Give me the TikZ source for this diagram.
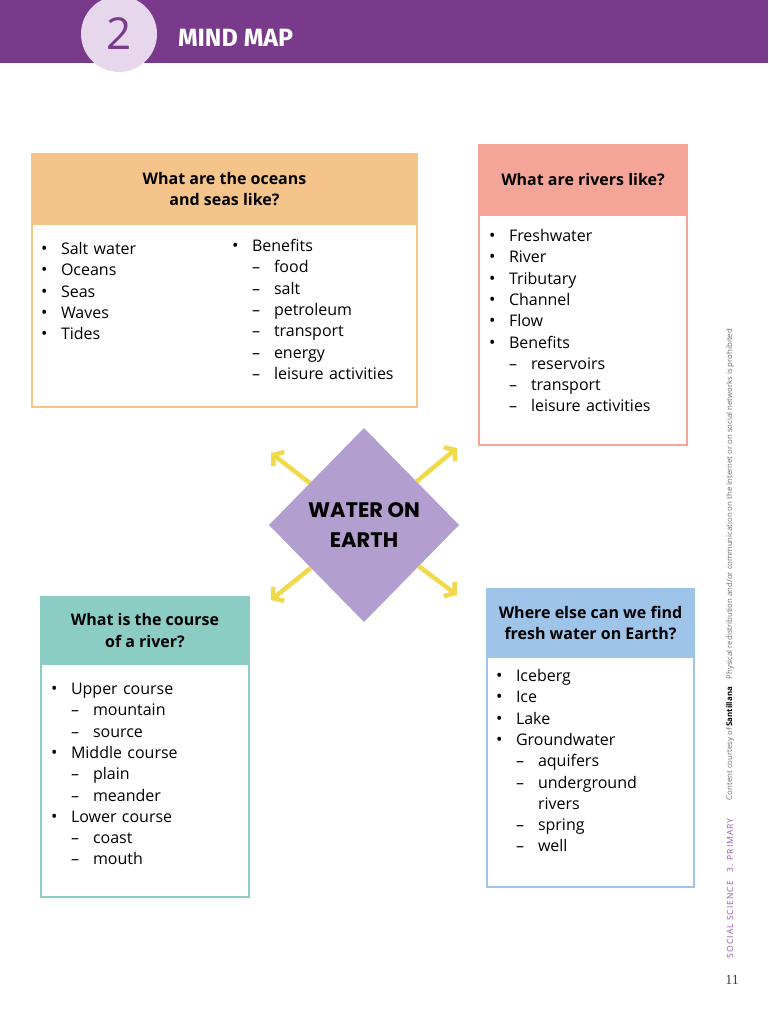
\documentclass[tikz,border=0pt]{standalone}
\usepackage{fontspec}
\setmainfont{Open Sans}
\newfontfamily\heavyfont{Poppins}
\newfontfamily\bannerfont{Fira Sans}
\newfontfamily\pagefont{Liberation Serif}
\newfontfamily\spacedfont[LetterSpace=12]{Open Sans}
\usetikzlibrary{positioning,arrows.meta,shapes.geometric}

\definecolor{bandcol}{HTML}{7A3A8C}
\definecolor{numcol}{HTML}{E6D7EC}
\definecolor{oceancol}{HTML}{F5C48A}
\definecolor{rivercol}{HTML}{F4A598}
\definecolor{coursecol}{HTML}{8BCDC3}
\definecolor{freshcol}{HTML}{9EC4E9}
\definecolor{diamondcol}{HTML}{B29ECF}
\definecolor{raycol}{HTML}{F2D94A}
\definecolor{creditcol}{HTML}{6E6E6E}
\definecolor{seriescol}{HTML}{9457B0}

\newcommand{\bodyfont}{\fontsize{16}{21.3}\selectfont}
\newcommand{\titlefont}{\fontsize{16}{21.5}\selectfont\bfseries}
\newcommand{\blt}{\makebox[20pt][l]{\fontsize{17}{10}\selectfont\textbullet}}
\newcommand{\dsh}{\hspace*{20pt}\makebox[22pt][l]{\textendash}}

\begin{document}
\begin{tikzpicture}[x=1pt,y=-1pt,
    every node/.style={inner sep=0pt, outer sep=0pt},
    frame/.style={draw=#1, line width=2pt, fill=white, anchor=north west},
    headbar/.style={draw=#1, fill=#1, line width=2pt, anchor=north west, align=center, font=\titlefont},
    listtext/.style={anchor=base west, align=left, font=\bodyfont, text width=#1},
    ray/.style={draw=raycol, line width=4.5pt, -{Straight Barb[length=7pt,width=18pt]}},
  ]
  \useasboundingbox (0,0) rectangle (768,1024);

  % banner
  \fill[bandcol] (0,0) rectangle (768,63);
  \node[circle, fill=numcol, minimum size=76, text=bandcol, font=\fontsize{44}{44}\selectfont] (chapter) at (119,34) {2};
  \node[anchor=west, text=white, font=\bannerfont\bfseries\fontsize{25}{25}\selectfont] (banner) at (178,38) {MIND MAP};

  % oceans and seas
  \node[frame=oceancol, minimum width=385, minimum height=253] (oceanbox) at (32,154) {};
  \node[headbar=oceancol, minimum width=385, minimum height=70] (oceanhead) at (32,154) {What are the oceans\\and seas like?};
  \node[listtext=170] (oceanlistA) at (41,254.5) {\blt Salt water\\ \blt Oceans\\ \blt Seas\\ \blt Waves\\ \blt Tides};
  \node[listtext=175] (oceanlistB) at (232,251.5) {\blt Benefits\\ \dsh food\\ \dsh salt\\ \dsh petroleum\\ \dsh transport\\ \dsh energy\\ \dsh leisure activities};

  % rivers
  \node[frame=rivercol, minimum width=208, minimum height=300] (riverbox) at (479,145) {};
  \node[headbar=rivercol, minimum width=208, minimum height=70] (riverhead) at (479,145) {What are rivers like?};
  \node[listtext=190] (riverlist) at (489,241.5) {\blt Freshwater\\ \blt River\\ \blt Tributary\\ \blt Channel\\ \blt Flow\\ \blt Benefits\\ \dsh reservoirs\\ \dsh transport\\ \dsh leisure activities};

  % course of a river
  \node[frame=coursecol, minimum width=208, minimum height=300] (coursebox) at (41,597) {};
  \node[headbar=coursecol, minimum width=208, minimum height=67] (coursehead) at (41,597) {What is the course\\of a river?};
  \node[listtext=190] (courselist) at (51,694.5) {\blt Upper course\\ \dsh mountain\\ \dsh source\\ \blt Middle course\\ \dsh plain\\ \dsh meander\\ \blt Lower course\\ \dsh coast\\ \dsh mouth};

  % fresh water
  \node[frame=freshcol, minimum width=207, minimum height=298] (freshbox) at (487,589) {};
  \node[headbar=freshcol, minimum width=207, minimum height=68] (freshhead) at (487,589) {Where else can we find\\fresh water on Earth?};
  \node[listtext=190] (freshlist) at (496,681.5) {\blt Iceberg\\ \blt Ice\\ \blt Lake\\ \blt Groundwater\\ \dsh aquifers\\ \dsh underground\\ \hspace*{42pt}rivers\\ \dsh spring\\ \dsh well};

  % centre
  \node[diamond, fill=diamondcol, minimum width=190, minimum height=194, align=center,
        font=\heavyfont\bfseries\fontsize{21}{30}\selectfont] (water) at (364,525) {WATER ON\\EARTH};
  \coordinate (tipNW) at (271,453);
  \coordinate (tipNE) at (457,448);
  \coordinate (tipSW) at (271,600);
  \coordinate (tipSE) at (457,595);
  \draw[ray] (water) -- (tipNW);
  \draw[ray] (water) -- (tipNE);
  \draw[ray] (water) -- (tipSW);
  \draw[ray] (water) -- (tipSE);

  % margin
  \node[rotate=90, anchor=west, text=creditcol, font=\fontsize{7.8}{9}\selectfont] (credit) at (730,800)
    {Content courtesy of \textcolor{black}{\textbf{Santillana}}\quad Physical redistribution and/or communication on the Internet or on social networks is prohibited};
  \node[rotate=90, anchor=west, text=seriescol, font=\spacedfont\fontsize{8.5}{9}\selectfont] (series) at (730,958) {SOCIAL SCIENCE\quad 3. PRIMARY};
  \node[text=darkgray, font=\pagefont\fontsize{14}{14}\selectfont] (pagenum) at (732,980) {11};
\end{tikzpicture}
\end{document}
